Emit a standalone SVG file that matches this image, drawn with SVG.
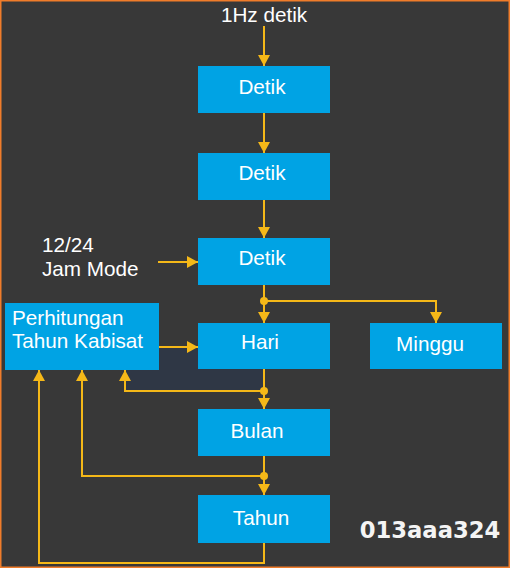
<svg xmlns="http://www.w3.org/2000/svg" width="510" height="568" viewBox="0 0 510 568">
<defs>
<style>
.box{fill:#00a3e4;}
.t{font-family:"Liberation Sans",Arial,sans-serif;font-size:20.7px;fill:#ffffff;}
.c{text-anchor:middle;}
.ln{fill:none;stroke:#f5b818;stroke-width:2;}
.dot{fill:#f5b818;}
</style>
<marker id="ah" viewBox="0 0 11 12" refX="11" refY="6" markerWidth="11" markerHeight="12" markerUnits="userSpaceOnUse" orient="auto">
<path d="M0,0 L11,6 L0,12 z" fill="#f5b818"/>
</marker>
</defs>
<rect x="0" y="0" width="510" height="568" fill="#383838"/>
<rect x="125" y="347" width="138" height="44" fill="#2f3745"/>
<rect x="0.75" y="0.75" width="508.5" height="566.5" fill="none" stroke="#f07c2a" stroke-width="1.5"/>
<g id="input1"><text class="t c" x="264" y="22">1Hz detik</text></g>
<g id="input2"><text class="t" x="42" y="252">12/24</text><text class="t" x="42" y="276">Jam Mode</text></g>
<g id="connectors">
<path class="ln" d="M264,26 V66" marker-end="url(#ah)"/>
<path class="ln" d="M264,113 V153" marker-end="url(#ah)"/>
<path class="ln" d="M264,200 V238" marker-end="url(#ah)"/>
<path class="ln" d="M158,262 H198" marker-end="url(#ah)"/>
<path class="ln" d="M264,285 V323" marker-end="url(#ah)"/>
<path class="ln" d="M264,301 H436 V323" marker-end="url(#ah)"/>
<circle class="dot" cx="264" cy="301" r="4"/>
<path class="ln" d="M159,347 H198" marker-end="url(#ah)"/>
<path class="ln" d="M264,369 V409" marker-end="url(#ah)"/>
<path class="ln" d="M264,391 H125 V370" marker-end="url(#ah)"/>
<circle class="dot" cx="264" cy="391" r="4"/>
<path class="ln" d="M264,456 V495" marker-end="url(#ah)"/>
<path class="ln" d="M264,476 H82 V370" marker-end="url(#ah)"/>
<circle class="dot" cx="264" cy="476" r="4"/>
<path class="ln" d="M264,543 V563 H39 V370" marker-end="url(#ah)"/>
</g>
<g id="detik1"><rect class="box" x="198" y="66" width="132" height="47"/><text class="t c" x="262" y="94">Detik</text></g>
<g id="detik2"><rect class="box" x="198" y="153" width="132" height="47"/><text class="t c" x="262" y="180">Detik</text></g>
<g id="detik3"><rect class="box" x="198" y="238" width="132" height="47"/><text class="t c" x="262" y="265">Detik</text></g>
<g id="hari"><rect class="box" x="198" y="323" width="132" height="46"/><text class="t c" x="260" y="349">Hari</text></g>
<g id="minggu"><rect class="box" x="370" y="323" width="132" height="46"/><text class="t c" x="430" y="351">Minggu</text></g>
<g id="kabisat"><rect class="box" x="5" y="303" width="154" height="67"/><text class="t" x="12" y="325">Perhitungan</text><text class="t" x="12" y="348">Tahun Kabisat</text></g>
<g id="bulan"><rect class="box" x="198" y="409" width="132" height="47"/><text class="t c" x="257" y="438">Bulan</text></g>
<g id="tahun"><rect class="box" x="198" y="495" width="132" height="48"/><text class="t c" x="261" y="525">Tahun</text></g>
<text x="430" y="538" text-anchor="middle" font-family="'DejaVu Sans',sans-serif" font-weight="bold" font-size="22.7" fill="#f4f4f4">013aaa324</text>
</svg>
